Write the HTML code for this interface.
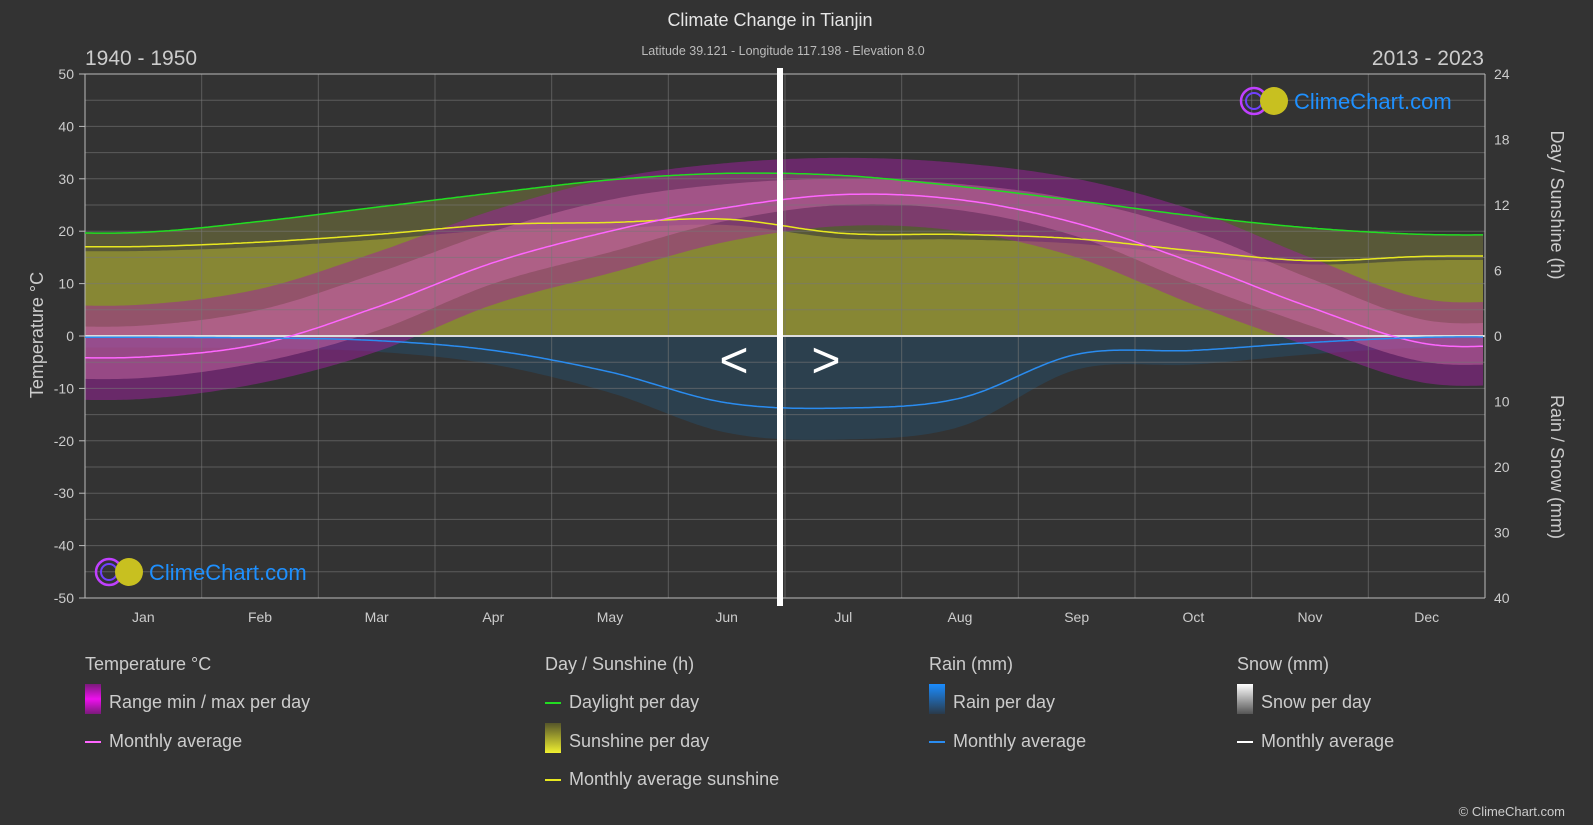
<!DOCTYPE html>
<html><head><meta charset="utf-8">
<style>
body{margin:0;background:#333333;font-family:"Liberation Sans",sans-serif;}
#wrap{position:relative;width:1593px;height:825px;overflow:hidden;background:#333333;}
.t{position:absolute;color:#cccccc;white-space:nowrap;}
.lg{position:absolute;font-size:18px;color:#cccccc;white-space:nowrap;}
</style></head><body>
<div id="wrap">
<div class="t" style="left:0;width:1540px;text-align:center;top:10px;font-size:18px;color:#e6e6e6">Climate Change in Tianjin</div>
<div class="t" style="left:0;width:1566px;text-align:center;top:44px;font-size:12.5px;color:#bbbbbb">Latitude 39.121 - Longitude 117.198 - Elevation 8.0</div>
<div class="t" style="left:85px;top:47px;font-size:21px">1940 - 1950</div>
<div class="t" style="right:109px;top:47px;font-size:21px">2013 - 2023</div>
<svg id="svg" width="1593" height="825" style="position:absolute;left:0;top:0"></svg>

<div class="lg" style="left:85px;top:654px">Temperature °C</div>
<div class="lg" style="left:85px;top:692px"><span style="display:inline-block;width:16px;height:30px;vertical-align:middle;margin:-8px 8px 0 0;background:linear-gradient(#7a1a7a,#ee10ee,#7a1a7a)"></span>Range min / max per day</div>
<div class="lg" style="left:85px;top:731px"><span style="display:inline-block;width:16px;height:2px;vertical-align:middle;margin:0 8px 0 0;background:#ff66ff"></span>Monthly average</div>

<div class="lg" style="left:545px;top:654px">Day / Sunshine (h)</div>
<div class="lg" style="left:545px;top:692px"><span style="display:inline-block;width:16px;height:2px;vertical-align:middle;margin:0 8px 0 0;background:#22dd22"></span>Daylight per day</div>
<div class="lg" style="left:545px;top:731px"><span style="display:inline-block;width:16px;height:30px;vertical-align:middle;margin:-8px 8px 0 0;background:linear-gradient(#55552a,#f0f030)"></span>Sunshine per day</div>
<div class="lg" style="left:545px;top:769px"><span style="display:inline-block;width:16px;height:2px;vertical-align:middle;margin:0 8px 0 0;background:#e8e820"></span>Monthly average sunshine</div>

<div class="lg" style="left:929px;top:654px">Rain (mm)</div>
<div class="lg" style="left:929px;top:692px"><span style="display:inline-block;width:16px;height:30px;vertical-align:middle;margin:-8px 8px 0 0;background:linear-gradient(#1a8cff,#2a3a4a)"></span>Rain per day</div>
<div class="lg" style="left:929px;top:731px"><span style="display:inline-block;width:16px;height:2px;vertical-align:middle;margin:0 8px 0 0;background:#2a8cf0"></span>Monthly average</div>

<div class="lg" style="left:1237px;top:654px">Snow (mm)</div>
<div class="lg" style="left:1237px;top:692px"><span style="display:inline-block;width:16px;height:30px;vertical-align:middle;margin:-8px 8px 0 0;background:linear-gradient(#ffffff,#555555)"></span>Snow per day</div>
<div class="lg" style="left:1237px;top:731px"><span style="display:inline-block;width:16px;height:2px;vertical-align:middle;margin:0 8px 0 0;background:#ffffff"></span>Monthly average</div>

<div class="t" style="right:28px;top:804px;font-size:13px">© ClimeChart.com</div>
</div>
<script>
const months=["Jan","Feb","Mar","Apr","May","Jun","Jul","Aug","Sep","Oct","Nov","Dec"];
const tempAvg=[-4,-1.5,5.5,14,20,24.5,27,26,21.5,14,5.5,-1.5];
const tempMax=[2,5,12,20,26,29,30,29,26,20,11,3];
const tempMin=[-10,-7,-1,8,14,20,23,22,17,8,0,-7];
const daylight=[9.5,10.5,11.8,13.1,14.3,14.9,14.7,13.7,12.4,11.0,9.9,9.3];
const sunshine=[8.2,8.6,9.3,10.2,10.4,10.7,9.4,9.3,8.9,7.8,6.9,7.3];
const rainAvg=[0.2,0.3,0.7,2.2,5.5,10.2,11,9.5,2.8,2.2,1.0,0.2];
const tempTicks=[50,40,30,20,10,0,-10,-20,-30,-40,-50];
const sunTicks=[24,18,12,6,0];
const rainTicks=[10,20,30,40];

const NS="http://www.w3.org/2000/svg";
const svg=document.getElementById('svg');
const X0=85,X1=1485,Y0=74,Y1=598;
const yT=v=>Y0+(50-v)*(Y1-Y0)/100;
const zero=yT(0);
const yS=h=>zero-h*(zero-Y0)/24;
const yR=mm=>zero+mm*(Y1-zero)/40;
const mw=(X1-X0)/12;
const xM=i=>X0+(i+0.5)*mw;
function mk(tag,attrs,name,parent){const e=document.createElementNS(NS,tag);for(const k in attrs)e.setAttribute(k,attrs[k]);


(parent||svg).appendChild(e);return e;}
function txt(x,y,s,anchor,size,name,fill){const e=mk('text',{x:x,y:y,'text-anchor':anchor,'font-size':size,fill:fill||'#cccccc','font-family':'Liberation Sans, sans-serif'},name);e.textContent=s;return e;}
function sample(arr,f){const pts=[];const n=arr.length;
 for(let x=X0;x<=X1;x+=3){let u=(x-X0)/mw-0.5;let i=Math.floor(u);let t=u-i;
  const g=k=>arr[Math.max(0,Math.min(n-1,k))];
  const p0=g(i-1),p1=g(i),p2=g(i+1),p3=g(i+2);
  const v=0.5*((2*p1)+(-p0+p2)*t+(2*p0-5*p1+4*p2-p3)*t*t+(-p0+3*p1-3*p2+p3)*t*t*t);
  pts.push([x,f(v)]);}
 return pts;}
const line=p=>p.map((q,i)=>(i?'L':'M')+q[0].toFixed(1)+','+q[1].toFixed(1)).join('');
function band(a,b){return line(a)+line(b.slice().reverse()).replace(/^M/,'L')+'Z';}
const base=sample(daylight,()=>zero);
mk('rect',{x:X0,y:Y0,width:X1-X0,height:Y1-Y0,fill:'#333333'},'plot-area');
mk('path',{d:band(sample(daylight,yS),base),fill:'#5c5c38',opacity:0.9},'daylight-area');
mk('path',{d:band(sample(sunshine,v=>yS(v*0.95)),base),fill:'#8a8a34',opacity:0.95},'sunshine-area');
mk('path',{d:band(base,sample(rainAvg,v=>yR(v*1.3+1.5))),fill:'#24506e',opacity:0.45},'rain-area');
mk('path',{d:band(sample(tempMax,v=>yT(v+4)),sample(tempMin,v=>yT(v-2))),fill:'#a020a0',opacity:0.5},'temp-range-outer');
mk('path',{d:band(sample(tempMax,yT),sample(tempMin,v=>yT(v+2))),fill:'#d070a8',opacity:0.45},'temp-range-inner');
for(let v=-50;v<=50;v+=5){mk('line',{x1:X0,x2:X1,y1:yT(v),y2:yT(v),stroke:'#777',opacity:0.6,'stroke-width':1},'grid-h');}
for(let i=1;i<12;i++){mk('line',{x1:X0+i*mw,x2:X0+i*mw,y1:Y0,y2:Y1,stroke:'#777',opacity:0.6},'grid-v');}
mk('line',{x1:X0,x2:X1,y1:zero,y2:zero,stroke:'#dddddd','stroke-width':2},'zero-line');
mk('line',{x1:X0,x2:X0,y1:Y0,y2:Y1,stroke:'#bbb'},'left-axis');
mk('line',{x1:X1,x2:X1,y1:Y0,y2:Y1,stroke:'#bbb'},'right-axis');
mk('line',{x1:X0,x2:X1,y1:Y0,y2:Y0,stroke:'#bbb'},'top-axis');
mk('line',{x1:X0,x2:X1,y1:Y1,y2:Y1,stroke:'#bbb'},'bottom-axis');
mk('path',{d:line(sample(daylight,yS)),fill:'none',stroke:'#22dd22','stroke-width':1.5},'daylight-line');
mk('path',{d:line(sample(sunshine,yS)),fill:'none',stroke:'#e8e820','stroke-width':1.5},'sunshine-avg-line');
mk('path',{d:line(sample(tempAvg,yT)),fill:'none',stroke:'#ff66ff','stroke-width':1.5},'temp-avg-line');
mk('path',{d:line(sample(rainAvg,yR)),fill:'none',stroke:'#2a8cf0','stroke-width':1.5},'rain-avg-line');
tempTicks.forEach(v=>{txt(74,yT(v)+5,String(v),'end',14,'temp-tick');mk('line',{x1:79,x2:X0,y1:yT(v),y2:yT(v),stroke:'#bbb'},'temp-tick-mark');});
sunTicks.forEach(v=>{txt(1494,yS(v)+5,String(v),'start',14,'sun-tick');});
rainTicks.forEach(v=>{txt(1494,yR(v)+5,String(v),'start',14,'rain-tick');});
months.forEach((m,i)=>txt(xM(i),622,m,'middle',14,'month-label'));
let a=txt(0,0,'Temperature °C','middle',18,'y-axis-title-temp');a.setAttribute('transform','translate(43,335) rotate(-90)');
a=txt(0,0,'Day / Sunshine (h)','middle',18,'y-axis-title-sun');a.setAttribute('transform','translate(1551,205) rotate(90)');
a=txt(0,0,'Rain / Snow (mm)','middle',18,'y-axis-title-rain');a.setAttribute('transform','translate(1551,467) rotate(90)');
mk('rect',{x:777,y:68,width:6,height:538,fill:'#ffffff'},'period-divider');
txt(734,377,'<','middle',50,'prev-arrow','#ffffff');
txt(826,377,'>','middle',50,'next-arrow','#ffffff');
function logo(x,y,name){const g=mk('g',{},name);
 mk('circle',{cx:x+14,cy:y,r:13,fill:'none',stroke:'#c040ff','stroke-width':2.5},'logo-ring',g);
 mk('circle',{cx:x+14,cy:y,r:8,fill:'none',stroke:'#7040ff','stroke-width':2},'logo-ring-inner',g);
 mk('circle',{cx:x+34,cy:y,r:14,fill:'#c8c020'},'logo-sun',g);
 const t=txt(x+54,y+8,'ClimeChart.com','start',22,'logo-text','#1e90ff');g.appendChild(t);}
logo(1240,101,'logo-top-right');logo(95,572,'logo-bottom-left');
</script>
</body></html>
